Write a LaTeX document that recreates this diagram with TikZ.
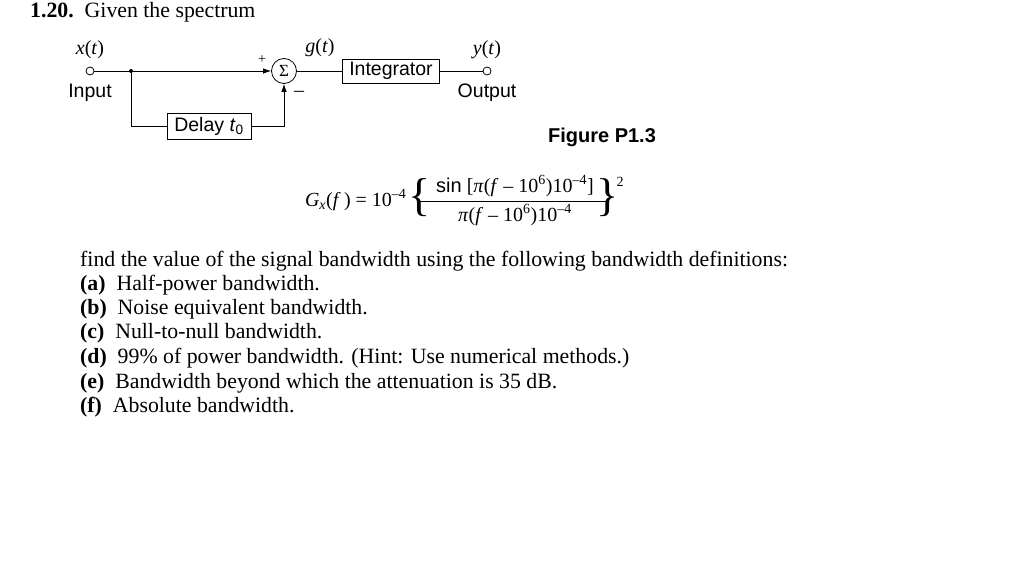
\documentclass[tikz,border=0pt]{standalone}
\usepackage{fontspec}
\setmainfont{Liberation Serif}
\setsansfont{Liberation Sans}
\usetikzlibrary{arrows.meta}
\newcommand{\ii}[1]{\textit{#1}}
\newcommand{\sps}[1]{\textsuperscript{#1}}
\begin{document}
\begin{tikzpicture}[x=1pt,y=-1pt,
  blk/.style={draw,thick,minimum height=24pt,inner sep=2pt,font=\sffamily\fontsize{19.5}{20}\selectfont},
  lbl/.style={font=\sffamily\fontsize{19.5}{20}\selectfont},
  mth/.style={font=\fontsize{20}{22}\selectfont},
  txt/.style={anchor=base west,font=\fontsize{21.8}{24}\selectfont,inner sep=0pt},
  eqt/.style={font=\fontsize{20}{22}\selectfont,inner sep=0pt},
  term/.style={circle,draw,thick,inner sep=0pt,minimum size=8pt},
  ar/.style={-{Latex[length=8pt,width=5.5pt]}},
  line/.style={thick}]
\useasboundingbox (0,0) rectangle (1024,575);
\node[txt] (title) at (30,18) {\textbf{1.20.}\ \ Given the spectrum};
\node[term] (in) at (90,71) {};
\coordinate (j) at (131,71);
\fill (j) circle (2pt);
\node[circle,draw,thick,minimum size=25pt,inner sep=0pt,font=\fontsize{17}{17}\selectfont] (sum) at (284,71) {Σ};
\node[blk,minimum width=97pt] (int) at (391,71) {Integrator};
\node[term] (out) at (487,71) {};
\node[blk,minimum width=84pt,minimum height=26pt] (del) at (209,126) {Delay \textit{t}\textsubscript{0}};
\draw[line] (in) -- (j);
\draw[line,ar] (j) -- (sum);
\draw[line] (j) |- (del);
\draw[line,ar] (del.east) -| (sum.south);
\draw[line] (sum) -- (int);
\draw[line] (int) -- (out);
\node[mth] (xl) at (90,50) {\ii{x}(\ii{t})};
\node[lbl] (il) at (90,93) {Input};
\node[font=\fontsize{14}{14}\selectfont] (pl) at (262,60) {+};
\node[mth] (gl) at (320,48) {\ii{g}(\ii{t})};
\node[mth] (ml) at (299,94) {–};
\node[mth] (yl) at (487,50) {\ii{y}(\ii{t})};
\node[lbl] (ol) at (487,93) {Output};
\node[font=\sffamily\bfseries\fontsize{20}{20}\selectfont] (fig) at (602,137) {Figure P1.3};
% equation
\node[eqt,anchor=east] (lhs) at (410,200) {\ii{G}\textsubscript{\ii{x}}(\ii{f}\,) = 10\sps{–4}\,};
\node[eqt,anchor=base] (num) at (515,192) {\textsf{sin} [\ii{π}(\ii{f} – 10\sps{6})10\sps{–4}]};
\node[eqt,anchor=base] (den) at (515,221) {\ii{π}(\ii{f} – 10\sps{6})10\sps{–4}};
\draw[thick] (418,201) -- (606,201);
\node[font=\fontsize{46}{46}\selectfont,inner sep=0pt] (lb) at (420,198) {\{};
\node[font=\fontsize{46}{46}\selectfont,inner sep=0pt] (rb) at (608,198) {\}};
\node[font=\fontsize{14}{14}\selectfont] (sq) at (620,182) {2};
\node[txt] (l0) at (80,266) {find the value of the signal bandwidth using the following bandwidth definitions:};
\node[txt] (la) at (80,290) {\textbf{(a)}\ \ Half-power bandwidth.};
\node[txt] (lb2) at (80,314) {\textbf{(b)}\ \ Noise equivalent bandwidth.};
\node[txt] (lc) at (80,338) {\textbf{(c)}\ \ Null-to-null bandwidth.};
\node[txt] (ld) at (80,363) {\textbf{(d)}\ \ 99\% of power bandwidth. (Hint: Use numerical methods.)};
\node[txt] (le) at (80,388) {\textbf{(e)}\ \ Bandwidth beyond which the attenuation is 35 dB.};
\node[txt] (lf) at (80,412) {\textbf{(f)}\ \ Absolute bandwidth.};
\end{tikzpicture}
\end{document}
